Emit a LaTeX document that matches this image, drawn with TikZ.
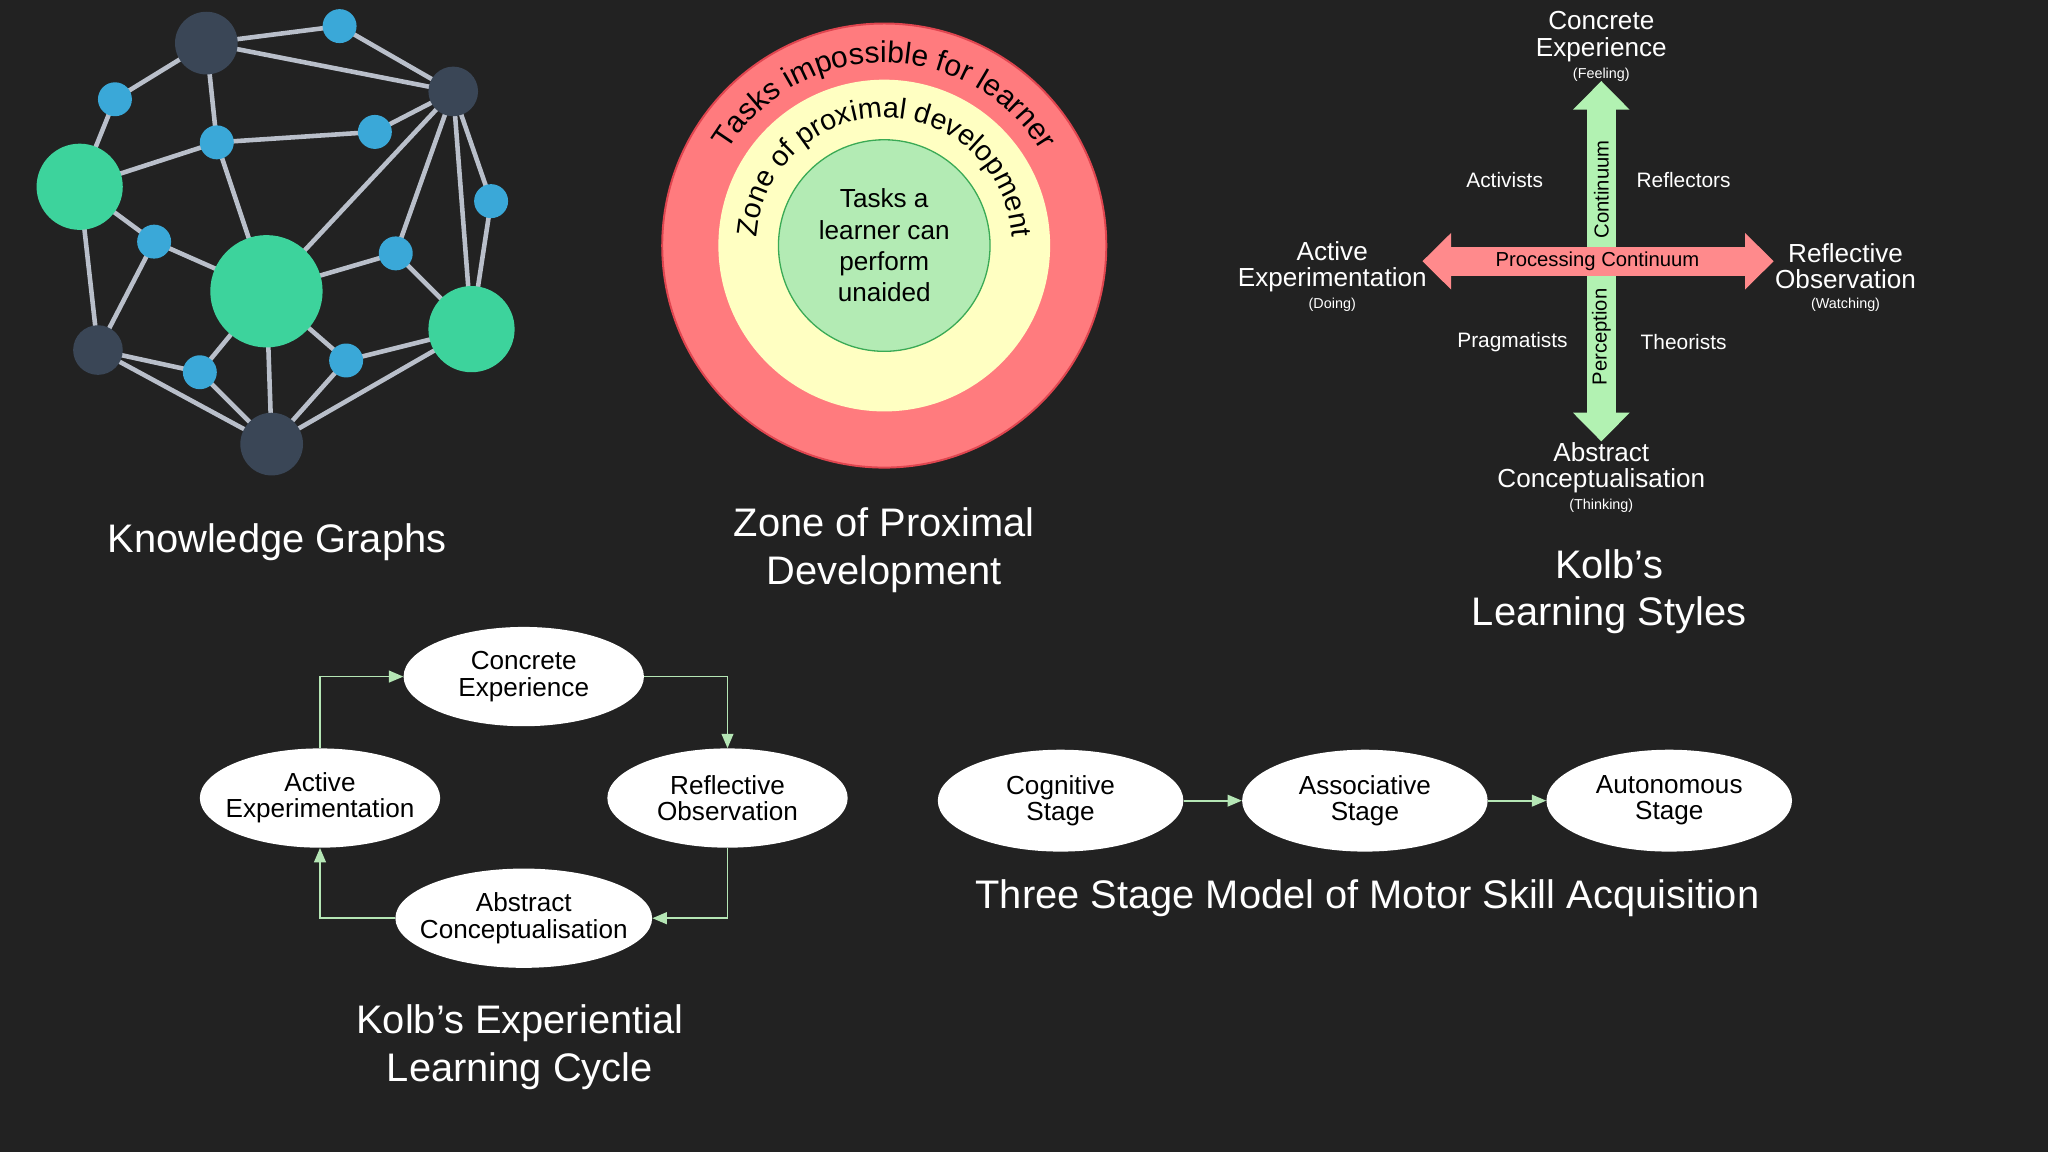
\documentclass[tikz,border=0pt]{standalone}
\usepackage{fontspec}
\setmainfont{Liberation Sans}
\usetikzlibrary{arrows.meta,decorations.text,shapes.geometric}
\definecolor{bg}{HTML}{222222}
\definecolor{kdark}{HTML}{3A4656}
\definecolor{kgreen}{HTML}{3DD39C}
\definecolor{kblue}{HTML}{3AA8D8}
\definecolor{kedge}{HTML}{B9BFCA}
\definecolor{zred}{HTML}{FF7B7E}
\definecolor{zredb}{HTML}{E0454F}
\definecolor{zyel}{HTML}{FFFFC2}
\definecolor{zgrn}{HTML}{B3EBB4}
\definecolor{zgrnb}{HTML}{3AAA55}
\definecolor{agrn}{HTML}{B2F2B2}
\definecolor{ared}{HTML}{FF8A8C}
\definecolor{cyc}{HTML}{B5E6B5}
\newcommand{\fs}[1]{\fontsize{#1}{#1}\selectfont}
\begin{document}
\begin{tikzpicture}[x=1pt,y=-1pt,
  kd/.style={circle,fill=kdark,inner sep=0pt},
  kg/.style={circle,fill=kgreen,inner sep=0pt},
  kb/.style={circle,fill=kblue,inner sep=0pt,minimum size=26pt},
  ke/.style={draw=kedge,line width=3.5pt},
  ttl/.style={text=white,align=center,font=\fs{30.5}},
  wt/.style={text=white,align=center},
  ell/.style={ellipse,fill=white,align=center,font=\fs{20},inner sep=-10pt,text=black},
  cyca/.style={draw=cyc,line width=1.3pt,-{Triangle[length=11pt,width=9pt]}}]
\useasboundingbox[fill=bg] (0,0) rectangle (1568,882);
% ---------- Knowledge graph
\path (158,33) coordinate (A) (347,70) coordinate (B) (75,268) coordinate (C) (208,340) coordinate (D)
 (61,143) coordinate (G1) (204,223) coordinate (G2) (361,252) coordinate (G3)
 (260,20) coordinate (b1) (88,76) coordinate (b2) (166,109) coordinate (b3) (287,101) coordinate (b4)
 (376,154) coordinate (b5) (118,185) coordinate (b6) (303,194) coordinate (b7) (153,285) coordinate (b8) (265,276) coordinate (b9);
\foreach \u/\v in {A/b1,b1/B,A/B,A/b2,A/b3,b2/G1,b3/G1,b3/b4,b3/G2,b4/B,B/G2,B/b5,B/G3,b5/G3,B/b7,b7/G2,b7/G3,G2/b6,b6/G1,G1/C,b6/C,G2/b8,G2/D,G2/b9,b9/G3,D/G3,C/b8,b8/D,C/D,b9/D}
  \draw[ke] (\u)--(\v);
\foreach \n/\r in {A/48,B/38,C/38,D/48} \node[kd,minimum size=\r pt] (n\n) at (\n) {};
\foreach \n/\r in {G1/66,G2/86,G3/66} \node[kg,minimum size=\r pt] (n\n) at (\n) {};
\foreach \n in {b1,b2,b3,b4,b5,b6,b7,b8,b9} \node[kb] (n\n) at (\n) {};
\node[ttl] (kgt) at (212,415) {Knowledge Graphs};
% ---------- ZPD
\node[circle,fill=zred,draw=zredb,line width=1.5pt,minimum size=340pt,inner sep=0pt] (z1) at (677,188) {};
\node[circle,fill=zyel,minimum size=254pt,inner sep=0pt] (z2) at (677,188) {};
\node[circle,fill=zgrn,draw=zgrnb,line width=1pt,minimum size=162pt,inner sep=0pt,align=center,font=\fs{20}] (z3) at (677,188) {Tasks a\\[4pt]learner can\\[4pt]perform\\[4pt]unaided};
\begin{scope}[shift={(677,188)},x=1pt,y=1pt]
\path[decorate,decoration={text along path,text={|\fs{23}|Tasks impossible for learner},text align=center}]
  (165:140) arc[start angle=165,end angle=15,radius=140];
\path[decorate,decoration={text along path,text={|\fs{22}|Zone of proximal development},text align=center}]
  (205:98) arc[start angle=205,end angle=-25,radius=98];
\end{scope}
\node[ttl] (zt) at (677,421) {Zone of Proximal\\[6pt]Development};
% ---------- Kolb styles
\draw[agrn,line width=22pt,{Triangle[length=22pt,width=42pt]}-{Triangle[length=22pt,width=42pt]}] (1226,62) -- (1226,338);
\draw[ared,line width=22pt,{Triangle[length=22pt,width=42pt]}-{Triangle[length=22pt,width=42pt]}] (1089,200) -- (1358,200);
\node[font=\fs{15.5}] (pc) at (1223,200) {Processing Continuum};
\node[font=\fs{15.5},rotate=90] (cn) at (1226,145) {Continuum};
\node[font=\fs{15.5},rotate=90] (pe) at (1226,258) {Perception};
\node[wt,font=\fs{20}] (ce) at (1226,28) {Concrete\\Experience};
\node[wt,font=\fs{11}] at (1226,57) {(Feeling)};
\node[wt,font=\fs{20}] (ae) at (1020,204) {Active\\Experimentation};
\node[wt,font=\fs{11}] at (1020,233) {(Doing)};
\node[wt,font=\fs{20}] (ro) at (1413,204) {Reflective\\Observation};
\node[wt,font=\fs{11}] at (1413,233) {(Watching)};
\node[wt,font=\fs{20}] (ac) at (1226,358) {Abstract\\Conceptualisation};
\node[wt,font=\fs{11}] at (1226,387) {(Thinking)};
\node[wt,font=\fs{16}] at (1152,138) {Activists};
\node[wt,font=\fs{16}] at (1289,138) {Reflectors};
\node[wt,font=\fs{16}] at (1158,262) {Pragmatists};
\node[wt,font=\fs{16}] at (1289,262) {Theorists};
\node[ttl] (kst) at (1232,453) {Kolb’s\\[6pt]Learning Styles};
% ---------- Kolb cycle
\node[ell,minimum width=184pt,minimum height=76pt] (CE) at (401,518) {Concrete\\Experience};
\node[ell,minimum width=184pt,minimum height=76pt] (RO) at (557,611) {Reflective\\Observation};
\node[ell,minimum width=184pt,minimum height=76pt] (AC) at (401,703) {Abstract\\Conceptualisation};
\node[ell,minimum width=184pt,minimum height=76pt] (AE) at (245,611) {Active\\Experimentation};
\draw[cyca] (CE.east) -| (RO.north);
\draw[cyca] (RO.south) |- (AC.east);
\draw[cyca] (AC.west) -| (AE.south);
\draw[cyca] (AE.north) |- (CE.west);
\node[ttl] (kct) at (398,802) {Kolb’s Experiential\\[6pt]Learning Cycle};
% ---------- Motor
\node[ell,minimum width=188pt,minimum height=78pt] (S1) at (812,613) {Cognitive\\Stage};
\node[ell,minimum width=188pt,minimum height=78pt] (S2) at (1045,613) {Associative\\Stage};
\node[ell,minimum width=188pt,minimum height=78pt] (S3) at (1278,613) {Autonomous\\Stage};
\draw[cyca] (S1) -- (S2);
\draw[cyca] (S2) -- (S3);
\node[ttl] (mt) at (1047,688) {Three Stage Model of Motor Skill Acquisition};
\end{tikzpicture}
\end{document}
